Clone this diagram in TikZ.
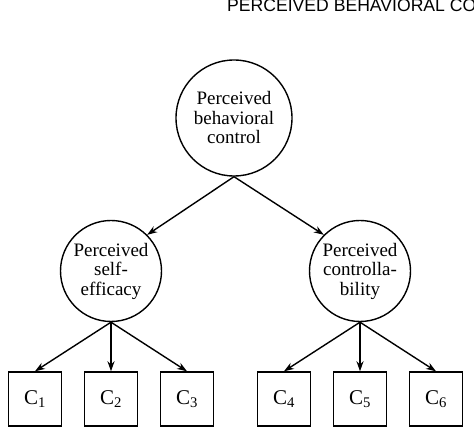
\documentclass[tikz,border=0pt]{standalone}
\usepackage{fontspec}
\setmainfont{Liberation Serif}
\newfontfamily\headfont{Liberation Sans}
\usetikzlibrary{arrows.meta, positioning}

\tikzset{
  latent/.style={circle, draw, line width=1.4pt, inner sep=0pt, align=center,
                 font=\fontsize{19}{19.5}\selectfont},
  indicator/.style={rectangle, draw, line width=1.4pt, minimum width=53pt,
                    minimum height=54pt, inner sep=0pt, font=\fontsize{21}{22}\selectfont},
  link/.style={->, line width=1.4pt}
}

\begin{document}
\begin{tikzpicture}[>={Stealth[length=10pt,width=7pt]}, x=1pt, y=1pt]
  \useasboundingbox (0,0) rectangle (474,439);

  % Running head
  \node[anchor=base west, inner sep=0pt, font=\headfont\fontsize{17.6}{18}\selectfont]
    (head) at (227,427) {PERCEIVED BEHAVIORAL CO};

  % Latent constructs
  \node[latent, minimum size=116pt] (pbc) at (234,321) {Perceived\\behavioral\\control};
  \node[latent, minimum size=101pt] (pse) at (111,168) {Perceived\\self-\\efficacy};
  \node[latent, minimum size=101pt] (pco) at (360,168) {Perceived\\controlla-\\bility};

  % Indicators
  \node[indicator] (c1) at (35,40)  {C\textsubscript{1}};
  \node[indicator] (c2) at (111,40) {C\textsubscript{2}};
  \node[indicator] (c3) at (187,40) {C\textsubscript{3}};
  \node[indicator] (c4) at (284,40) {C\textsubscript{4}};
  \node[indicator] (c5) at (360,40) {C\textsubscript{5}};
  \node[indicator] (c6) at (436,40) {C\textsubscript{6}};

  % Higher-order paths
  \draw[link] (pbc.south) -- (pse.north east);
  \draw[link] (pbc.south) -- (pco.north west);

  % Loadings
  \draw[link] (pse.south) -- (c1.north);
  \draw[link] (pse.south) -- (c2.north);
  \draw[link] (pse.south) -- (c3.north);
  \draw[link] (pco.south) -- (c4.north);
  \draw[link] (pco.south) -- (c5.north);
  \draw[link] (pco.south) -- (c6.north);
\end{tikzpicture}
\end{document}
